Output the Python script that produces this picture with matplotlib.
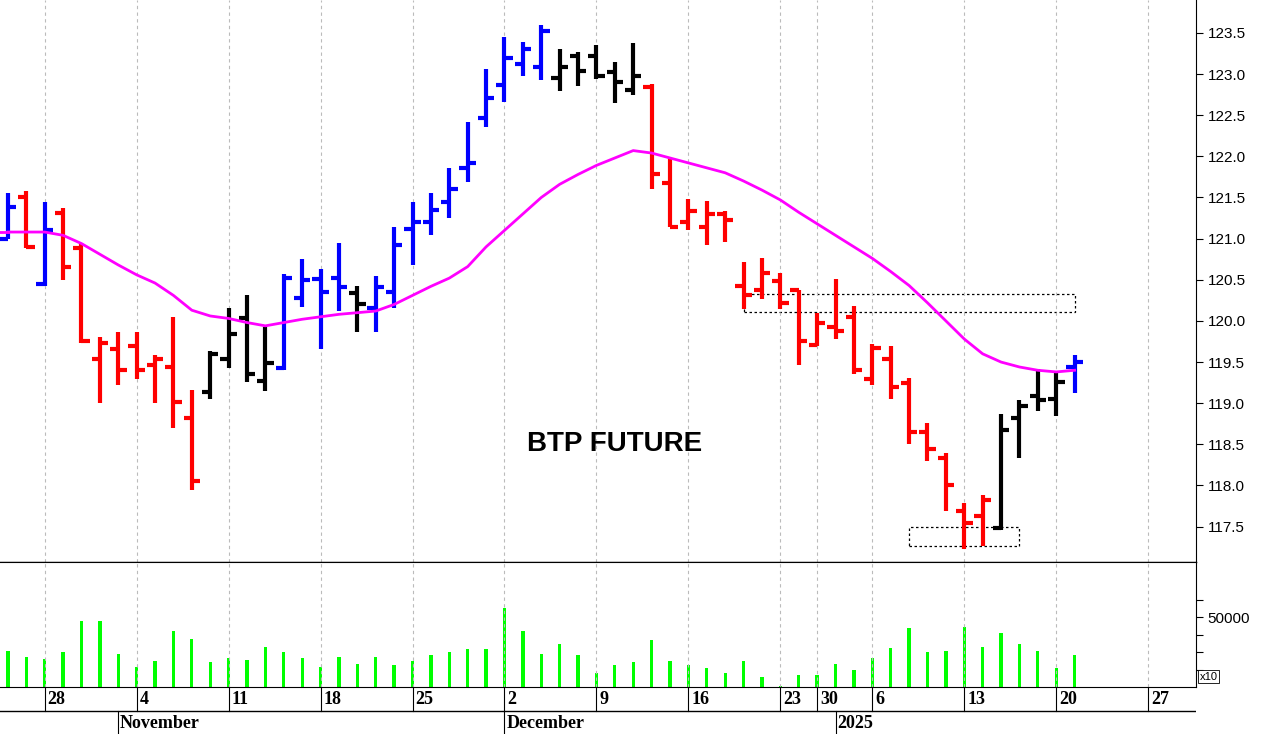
import matplotlib
matplotlib.use("Agg")
import matplotlib.pyplot as plt
import numpy as np

# OHLC per trading day (index 0 = Oct 24)
opens = [121.0, 121.51, 120.45, 121.31, 120.89, 119.54, 119.66, 119.7, 119.46, 119.44,
         118.82, 119.13, 119.54, 120.04, 119.27, 119.43, 120.28, 120.51, 120.52, 120.34,
         120.16, 120.35, 121.12, 121.2, 121.44, 121.86, 122.47, 122.87, 123.12, 123.08,
         122.95, 123.22, 123.22, 123.03, 122.81, 122.84, 121.67, 121.2, 121.14, 121.3,
         120.43, 120.37, 120.48, 120.37, 119.71, 119.92, 120.05, 119.3, 119.54, 119.24,
         118.65, 118.33, 117.69, 117.63, 117.48, 118.82, 119.09, 119.05, 119.44]
highs = [121.56, 121.58, 121.44, 121.37, 120.95, 119.81, 119.86, 119.86, 119.58, 120.05,
         119.16, 119.63, 120.16, 120.31, 119.92, 120.57, 120.75, 120.63, 120.95, 120.43,
         120.54, 121.14, 121.44, 121.56, 121.86, 122.42, 123.06, 123.45, 123.39, 123.6,
         123.3, 123.27, 123.35, 123.15, 123.38, 122.88, 121.98, 121.48, 121.46, 121.34,
         120.71, 120.77, 120.58, 120.37, 120.1, 120.51, 120.18, 119.72, 119.7, 119.31,
         118.76, 118.39, 117.79, 117.88, 118.87, 119.04, 119.41, 119.37, 119.58]
lows = [120.99, 120.88, 120.43, 120.5, 119.73, 119.0, 119.22, 119.3, 119.0, 118.7,
        117.94, 119.05, 119.43, 119.26, 119.15, 119.4, 120.17, 119.66, 120.12, 119.87,
        119.87, 120.16, 120.68, 121.05, 121.25, 121.69, 122.36, 122.66, 122.98, 122.93,
        122.8, 122.86, 122.94, 122.65, 122.75, 121.6, 121.14, 121.11, 120.92, 120.96,
        120.14, 120.27, 120.15, 119.46, 119.7, 119.78, 119.35, 119.22, 119.05, 118.51,
        118.3, 117.69, 117.23, 117.26, 117.46, 118.33, 118.91, 118.84, 119.12]
closes = [121.38, 120.9, 121.1, 120.65, 119.75, 119.73, 119.4, 119.4, 119.54, 119.02,
          118.06, 119.6, 119.84, 119.36, 119.49, 120.52, 120.5, 120.35, 120.41, 120.21,
          120.41, 120.92, 121.2, 121.35, 121.6, 121.92, 122.71, 123.2, 123.3, 123.52,
          123.08, 123.04, 122.98, 122.9, 122.98, 121.78, 121.14, 121.33, 121.3, 121.23,
          120.32, 120.58, 120.22, 119.75, 119.97, 119.88, 119.4, 119.67, 119.2, 118.65,
          118.44, 118.0, 117.54, 117.82, 118.67, 118.97, 119.04, 119.26, 119.5]
bar_colors = (["b", "r", "b", "r"] + ["r"] * 7 + ["k"] * 4 + ["b"] * 4 + ["k"]
              + ["b"] * 10 + ["k"] * 5 + ["r"] * 19 + ["k"] * 4 + ["b"])
moving_avg = [121.08, 121.08, 121.08, 121.04, 120.94, 120.81, 120.68, 120.56, 120.46, 120.31,
              120.13, 120.06, 120.03, 119.98, 119.94, 119.98, 120.02, 120.05, 120.08, 120.1,
              120.12, 120.2, 120.31, 120.42, 120.52, 120.66, 120.9, 121.1, 121.3, 121.5,
              121.66, 121.78, 121.89, 121.98, 122.07, 122.04, 121.98, 121.92, 121.86, 121.8,
              121.7, 121.59, 121.47, 121.32, 121.18, 121.04, 120.9, 120.76, 120.6, 120.43,
              120.22, 120.0, 119.78, 119.6, 119.5, 119.44, 119.4, 119.38, 119.4]
volume = [25700, 21400, 20000, 25000, 47100, 47100, 23600, 14300, 18600, 40000,
          34300, 17900, 20700, 19300, 28600, 25000, 20700, 14300, 21400, 16400,
          21400, 15700, 18600, 22900, 25000, 27100, 27100, 56400, 40000, 23600,
          30700, 22900, 10000, 15700, 17900, 33600, 18600, 15700, 13600, 10000,
          18600, 7100, 700, 8600, 8600, 16400, 12100, 20700, 27900, 42100,
          25000, 25700, 42900, 28600, 38600, 30700, 25700, 13600, 22900]
day_ticks = [2, 7, 12, 17, 22, 27, 32, 37, 42, 44, 47, 52, 57, 62]
day_labels = ["28", "4", "11", "18", "25", "2", "9", "16", "23", "30", "6", "13", "20", "27"]
month_pos = [6, 27, 45]
month_labels = ["November", "December", "2025"]
price_ticks = [117.5, 118.0, 118.5, 119.0, 119.5, 120.0, 120.5, 121.0, 121.5, 122.0,
               122.5, 123.0, 123.5]

W, H = 1266, 734
fig = plt.figure(figsize=(W / 100, H / 100), dpi=100)
right = 1196 / W
xlim = (-0.43, 64.6)
serif = ["Liberation Serif", "DejaVu Serif"]

ax = fig.add_axes([0, (H - 562) / H, right, 562 / H])
axv = fig.add_axes([0, (H - 687) / H, right, 125 / H])
axd = fig.add_axes([0, 0, right, (H - 687) / H])

x = np.arange(len(opens))
hw = 0.45
ax.vlines(x, lows, highs, colors=bar_colors, lw=3)
ax.hlines(opens, x - hw, x, colors=bar_colors, lw=3)
ax.hlines(closes, x, x + hw, colors=bar_colors, lw=3)
ax.plot(x, moving_avg, color="#ff00ff", lw=2)
ax.plot([-0.43, 0], [moving_avg[0]] * 2, color="#ff00ff", lw=2)

# dashed boxes
for x0, x1, y0, y1 in [(40, 58, 120.11, 120.33), (49, 55, 117.27, 117.49)]:
    ax.add_patch(plt.Rectangle((x0, y0), x1 - x0, y1 - y0, fill=False,
                               ls=(0, (2, 2)), lw=0.9, ec="black"))

ax.text(33, 118.5, "BTP FUTURE", fontsize=20, fontweight="bold",
        ha="center", va="center", family="Liberation Sans")

ax.set_xlim(*xlim)
ax.set_ylim(117.07, 123.9)
ax.yaxis.tick_right()
ax.set_yticks(price_ticks)
ax.set_yticklabels([f"{v:.1f}" for v in price_ticks], family="Liberation Sans", fontsize=11)
ax.set_xticks(day_ticks)
ax.tick_params(axis="x", length=0, labelbottom=False)
ax.tick_params(axis="y", length=5, width=0.8)
ax.grid(axis="x", color="#bbbbbb", ls=(0, (3, 3)), lw=0.8)
for s in ["top", "left"]:
    ax.spines[s].set_visible(False)
ax.spines["bottom"].set_color("black")
ax.spines["bottom"].set_linewidth(1)

axv.bar(x, volume, width=0.18, color="#00ff00")
axv.set_xlim(*xlim)
axv.set_ylim(0, 89300)
axv.yaxis.tick_right()
axv.set_yticks([12500, 25000, 37500, 50000, 62500])
axv.set_yticklabels(["", "", "", "50000", ""], family="Liberation Sans", fontsize=11)
axv.set_xticks(day_ticks)
axv.tick_params(axis="x", length=0, labelbottom=False)
axv.tick_params(axis="y", length=5, width=0.8)
axv.grid(axis="x", color="#bbbbbb", ls=(0, (3, 3)), lw=0.8)
for s in ["left"]:
    axv.spines[s].set_visible(False)
axv.text(1.003, 0.06, "x10", transform=axv.transAxes, fontsize=8,
         family="Liberation Sans", bbox=dict(fc="white", ec="black", lw=0.6, pad=1))

# date axis
axd.set_xlim(*xlim)
axd.set_ylim(0, 1)
axd.axis("off")
axd.axhline(0.49, color="black", lw=1)
for p, lab in zip(day_ticks, day_labels):
    axd.plot([p, p], [0.49, 1], color="black", lw=0.8)
    axd.text(p + 0.15, 0.74, lab, fontsize=13, fontweight="bold", family=serif, va="center")
for p, lab in zip(month_pos, month_labels):
    axd.plot([p, p], [0, 0.49], color="black", lw=0.8)
    axd.text(p + 0.1, 0.22, lab, fontsize=13, fontweight="bold", family=serif, va="center")

fig.savefig("out.png", dpi=100)
